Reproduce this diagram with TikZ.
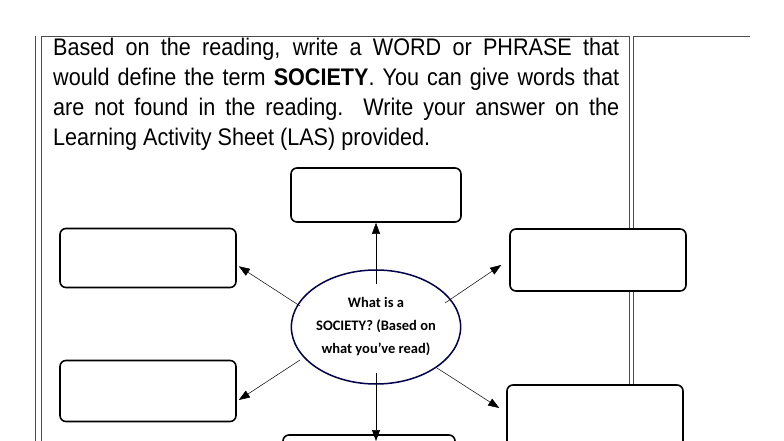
\documentclass[tikz,border=0pt]{standalone}
\usepackage{fontspec}
\setmainfont{Liberation Sans}[FakeStretch=0.9]
\newfontfamily\calib{Carlito}
\usetikzlibrary{arrows.meta,shapes.geometric}
\begin{document}
\begin{tikzpicture}[x=1pt,y=-1pt,
  ansbox/.style={draw,line width=1.6pt,rounded corners=6pt,inner sep=0pt},
  conn/.style={draw,line width=0.5pt,-{Triangle[length=11pt,width=8pt]}},
  frame/.style={draw,line width=0.6pt,gray!60!black}]
\useasboundingbox (0,0) rectangle (784,441);
\begin{scope}
\clip (0,0) rectangle (784,441);
\draw[frame] (35,36) -- (35,441);
\draw[frame] (41,36) -- (41,441);
\draw[frame] (41,36) -- (629,36);
\draw[frame] (629,36) -- (629,441);
\draw[frame] (633,36) -- (633,441);
\draw[frame] (633,36) -- (750,36);
\node[anchor=north west,text width=566pt,align=justify,inner sep=0pt,font=\fontsize{24}{30}\selectfont] (txt) at (53,38)
 {Based on the reading, write a WORD or PHRASE that\linebreak would define the term \textbf{SOCIETY}. You can give words that\linebreak are not found in the reading. Write your answer on the\linebreak Learning Activity Sheet (LAS) provided.};
\node[ansbox,fill=white,minimum width=170pt,minimum height=54pt] (t) at (376,195) {};
\node[ansbox,fill=white,minimum width=176pt,minimum height=59pt] (lt) at (148,258) {};
\node[ansbox,fill=white,minimum width=176pt,minimum height=62pt] (rt) at (598,260) {};
\node[ansbox,fill=white,minimum width=176pt,minimum height=61pt] (lb) at (148,391) {};
\node[ansbox,fill=white,minimum width=176pt,minimum height=62pt] (rb) at (595,416) {};
\node[ansbox,fill=white,minimum width=172pt,minimum height=40pt] (b) at (369,455) {};
\node[ellipse,draw=blue!30!black,line width=1.5pt,minimum width=150pt,minimum height=114pt,inner sep=0pt,align=center,font=\calib\bfseries\fontsize{14.5}{23}\selectfont] (c) at (376,327)
 {What is a\\SOCIETY? (Based on\\what you’ve read)};
\coordinate (c1) at (376,284);
\coordinate (c2) at (376,373);
\coordinate (c3) at (300,306);
\coordinate (c4) at (445,303);
\coordinate (c5) at (300,360);
\coordinate (c6) at (437,368);
\draw[conn] (c1) -- (t.south);
\draw[conn] (c2) -- (376,441);
\draw[conn] (c3) -- ([xshift=2pt,yshift=22pt]lt.south east);
\draw[conn] (c4) -- ([xshift=-8pt,yshift=-5pt]rt.west);
\draw[conn] (c5) -- ([xshift=2pt,yshift=-9pt]lb.east);
\draw[conn] (c6) -- ([xshift=-7pt,yshift=8pt]rb.west);
\end{scope}
\end{tikzpicture}
\end{document}
